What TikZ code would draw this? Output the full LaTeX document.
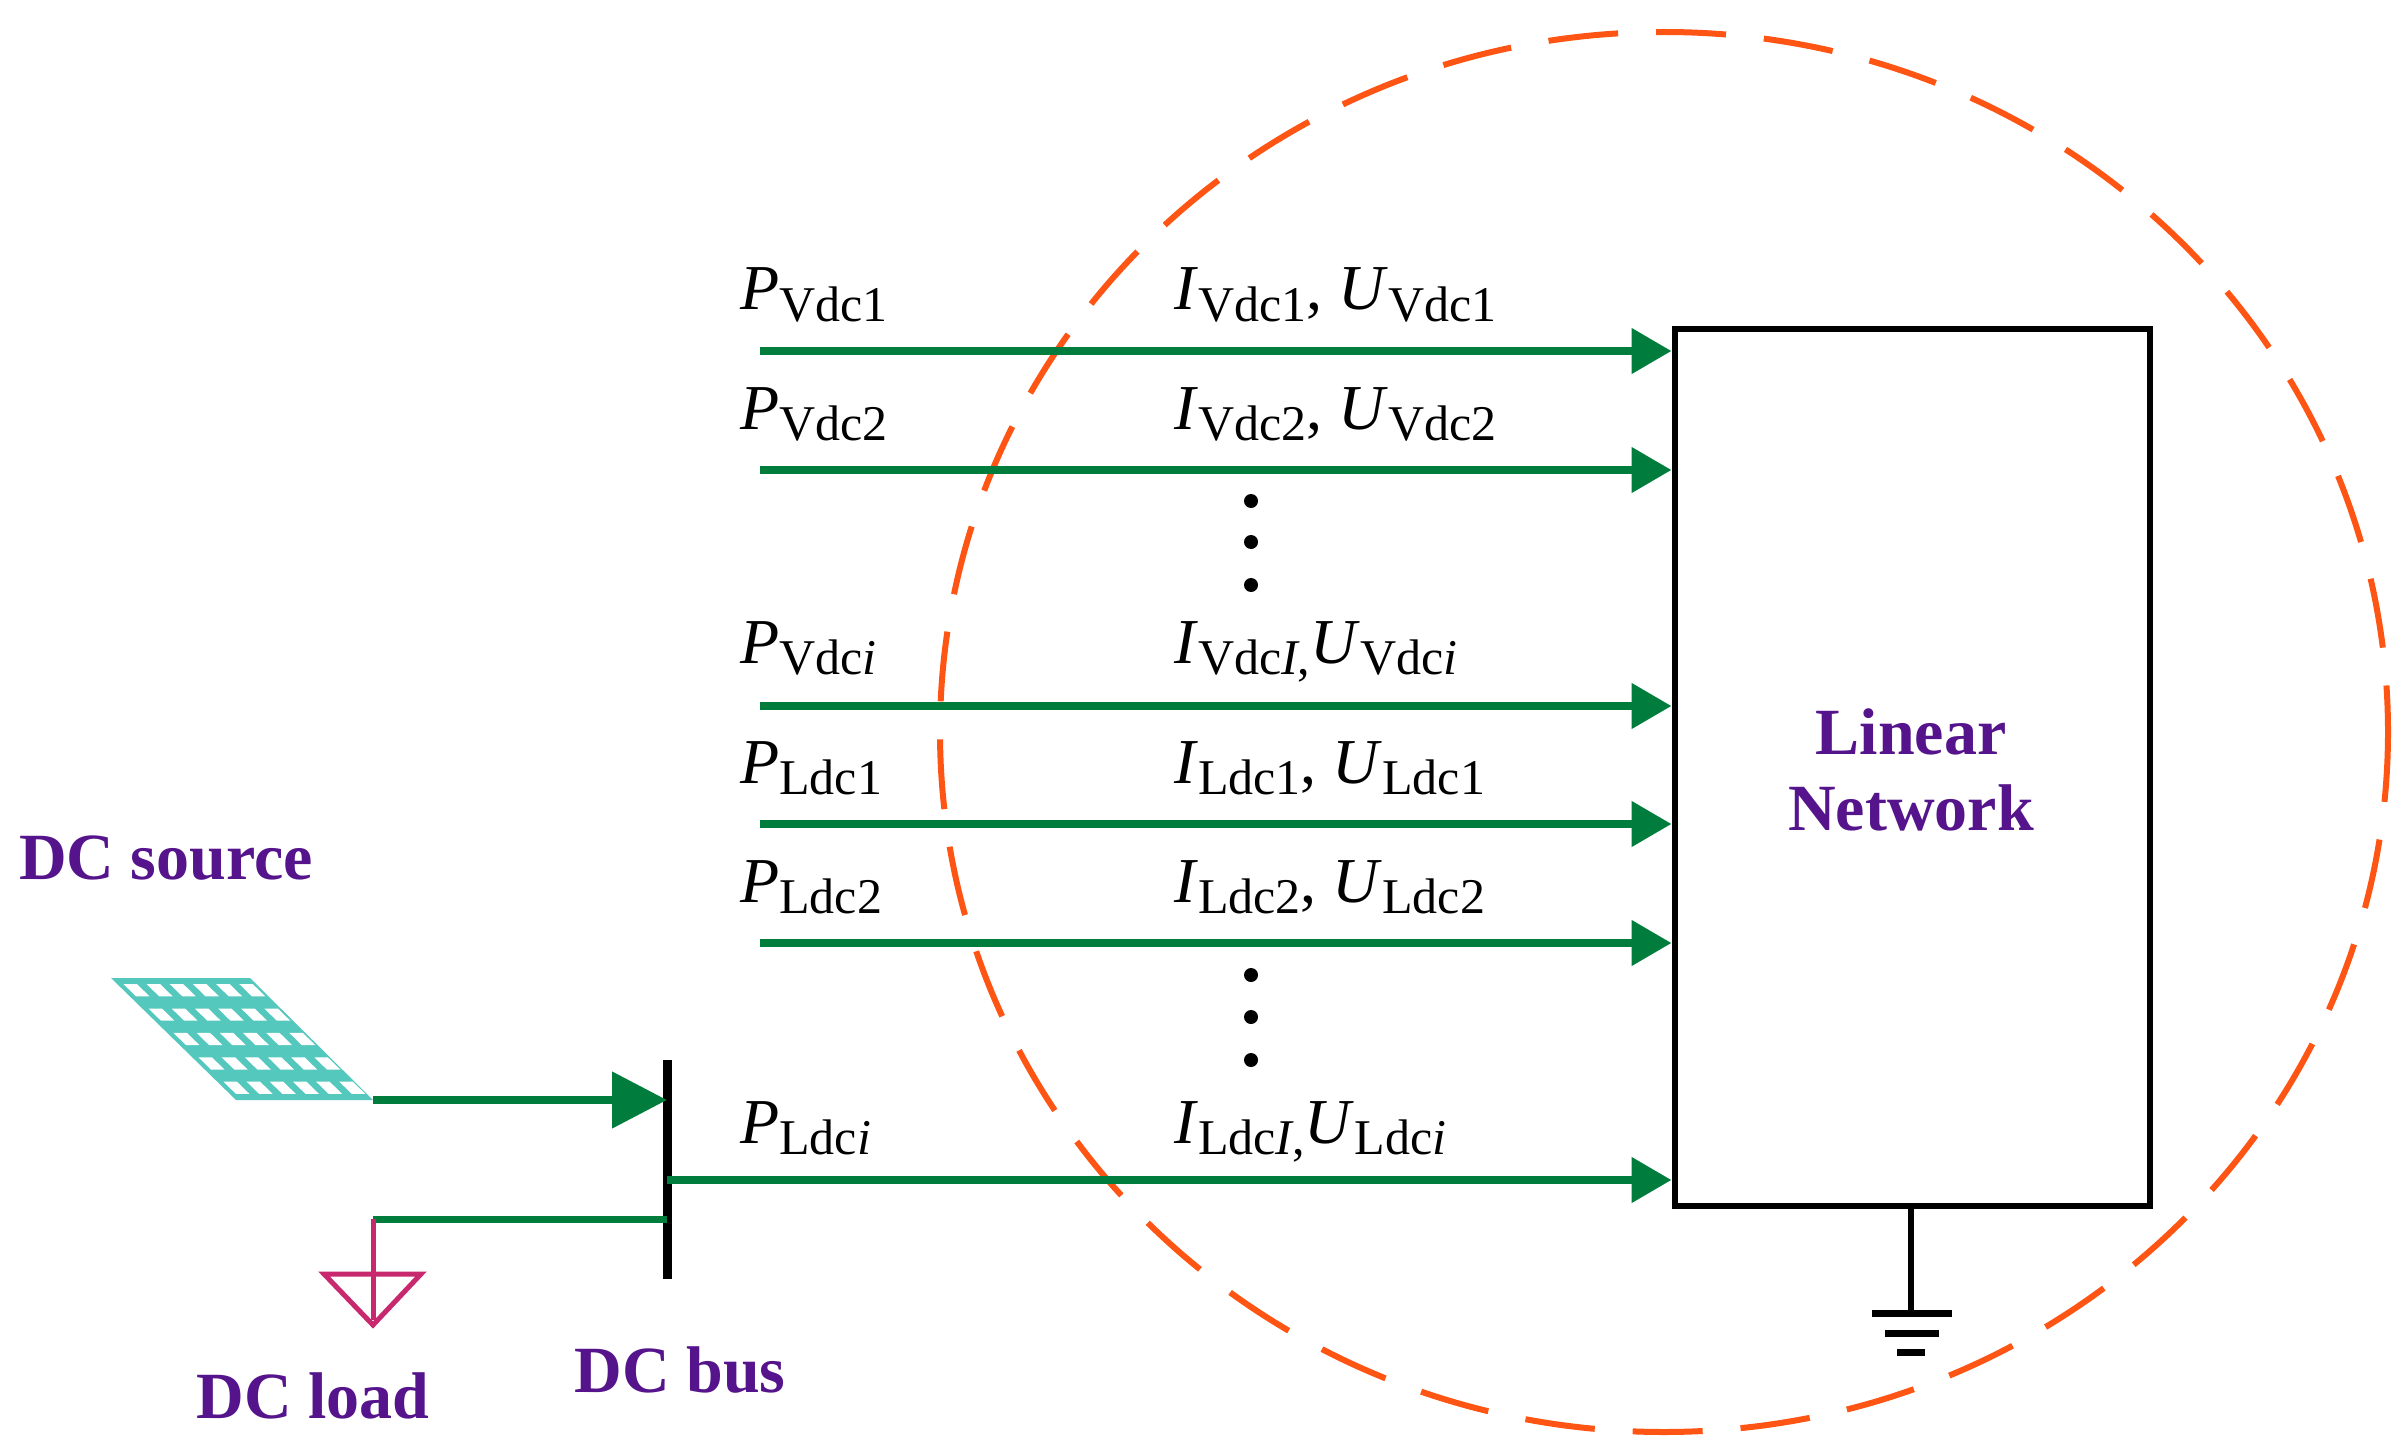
\documentclass[tikz,border=0pt]{standalone}
\usepackage{fontspec}
\setmainfont{Liberation Serif}
\usetikzlibrary{arrows.meta}
\definecolor{gr}{RGB}{0,125,60}
\definecolor{orng}{RGB}{255,85,20}
\definecolor{purp}{RGB}{85,20,140}
\definecolor{teal2}{RGB}{85,200,190}
\definecolor{mag}{RGB}{200,40,110}
\newcommand{\lbl}[2]{\textit{#1}\raisebox{-0.4ex}{\fontsize{50}{50}\selectfont #2}}
\tikzset{
  flow/.style={draw=gr,line width=8pt,-{Triangle[length=40pt,width=44pt]}},
  wire/.style={draw=gr,line width=7pt},
  var/.style={font=\fontsize{64}{64}\selectfont,anchor=base west,inner sep=0},
  title/.style={font=\bfseries\fontsize{66}{76}\selectfont,text=purp,align=center},
}
\begin{document}
\begin{tikzpicture}[x=1pt,y=-1pt]
\useasboundingbox (0,0) rectangle (2404,1455);
\draw[orng,line width=6pt,dash pattern=on 70pt off 38pt] (1664,732) ellipse [x radius=724,y radius=700];
\node[draw,line width=6pt,minimum width=475pt,minimum height=877pt,inner sep=0] (net) at (1912,767) {};
\node[title] (lin) at (1911,770) {Linear\\Network};
% arrows
\foreach \n/\y/\py/\pt/\it in {1/351/310/\lbl{P}{Vdc1}/{\lbl{I}{Vdc1}, \lbl{U}{Vdc1}},
  2/470/429/\lbl{P}{Vdc2}/{\lbl{I}{Vdc2}, \lbl{U}{Vdc2}},
  3/706/663/\lbl{P}{Vdc\textit{i}}/{\lbl{I}{Vdc\textit{I},}\lbl{U}{Vdc\textit{i}}},
  4/824/783/\lbl{P}{Ldc1}/{\lbl{I}{Ldc1}, \lbl{U}{Ldc1}},
  5/943/902/\lbl{P}{Ldc2}/{\lbl{I}{Ldc2}, \lbl{U}{Ldc2}}}{
  \coordinate (s\n) at (760,\y);
  \coordinate (e\n) at (net.west |- s\n);
  \draw[flow] (s\n) -- (e\n);
  \node[var] (p\n) at (740,\py) {\pt};
  \node[var] (i\n) at (1174,\py) {\it};
}
\node[var] (p6) at (740,1143) {\lbl{P}{Ldc\textit{i}}};
\node[var] (i6) at (1174,1143) {\lbl{I}{Ldc\textit{I},}\lbl{U}{Ldc\textit{i}}};
\foreach \y in {501,542,585,975,1017,1060} \fill (1251,\y) circle (7pt);
% bus
\coordinate (b1) at (667,1060); \coordinate (b2) at (667,1279);
\draw[line width=9pt] (b1) -- (b2);
\coordinate (s6) at (667,1180);
\draw[flow] (s6) -- (net.west |- s6);
% solar panel
\fill[teal2] (111,978) -- (250,978) -- (373,1100) -- (236,1100) -- cycle;
\foreach \r in {0,...,4}{\foreach \c in {0,...,5}{
  \pgfmathsetmacro{\ua}{\c/6+0.045}\pgfmathsetmacro{\ub}{(\c+1)/6-0.025}
  \pgfmathsetmacro{\va}{\r/5+0.05}\pgfmathsetmacro{\vb}{(\r+1)/5-0.05}
  \fill[white] (111+139*\ua+125*\va,978+122*\va) -- (111+139*\ub+125*\va,978+122*\va)
    -- (111+139*\ub+125*\vb,978+122*\vb) -- (111+139*\ua+125*\vb,978+122*\vb) -- cycle;}}
\coordinate (pv) at (373,1100);
\draw[flow,-{Triangle[length=55pt,width=55pt]}] (pv) -- (b1 |- pv);
% load
\coordinate (lj) at (667,1219); \coordinate (lc) at (373,1219);
\draw[wire] (lj) -- (lc);
\draw[mag,line width=5pt] (lc) -- (373,1320);
\draw[mag,line width=5pt] (324,1274) -- (421,1274) -- (373,1325) -- cycle;
% ground
\draw[line width=6pt] (1911,1205) -- (1911,1313);
\draw[line width=7pt] (1872,1313) -- (1952,1313);
\draw[line width=7pt] (1885,1333) -- (1939,1333);
\draw[line width=7pt] (1897,1352) -- (1925,1352);
% titles
\node[title] (src) at (166,858) {DC source};
\node[title] (ld) at (313,1396) {DC load};
\node[title] (bus) at (680,1370) {DC bus};
\end{tikzpicture}
\end{document}
